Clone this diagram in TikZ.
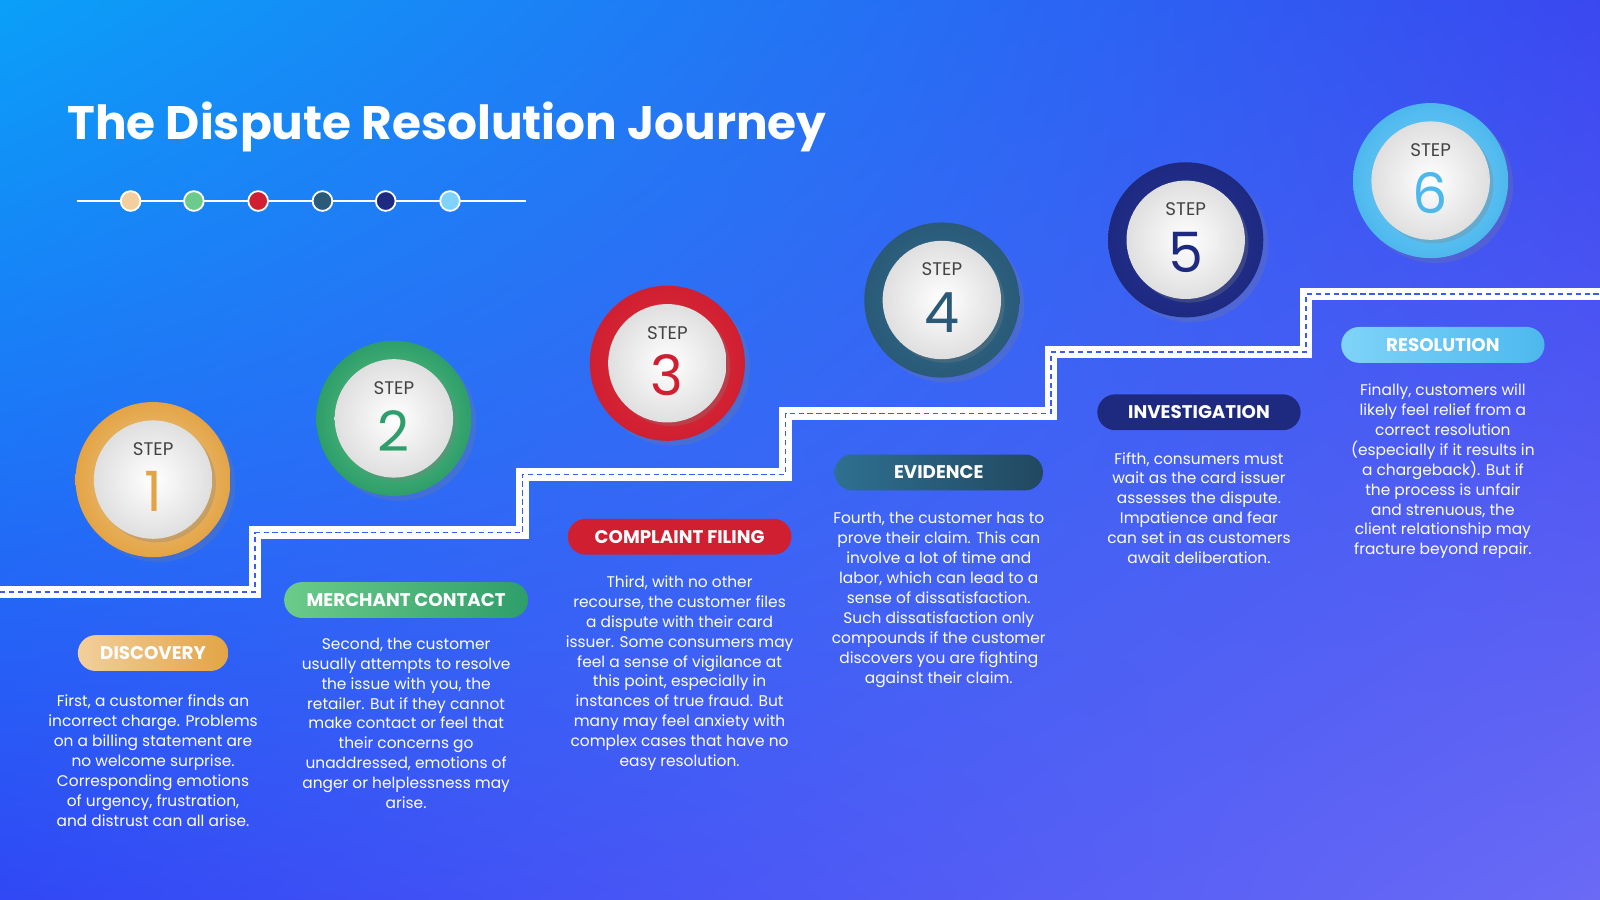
\documentclass[tikz,border=0pt]{standalone}
\usepackage{fontspec}
\setmainfont{Poppins}
\usetikzlibrary{shadows,shadings}
\definecolor{cA}{HTML}{E3A445}\definecolor{cAl}{HTML}{F2CF9C}
\definecolor{cB}{HTML}{2E9E6A}\definecolor{cBl}{HTML}{6CCB8A}
\definecolor{cC}{HTML}{D01F30}\definecolor{cCl}{HTML}{E0303F}
\definecolor{cD}{HTML}{2A5A78}\definecolor{cDl}{HTML}{2E7090}
\definecolor{cE}{HTML}{1E2A80}\definecolor{cEl}{HTML}{25339A}
\definecolor{cF}{HTML}{4DB8EE}\definecolor{cFl}{HTML}{7FD3F8}
\definecolor{bgA}{HTML}{0AA0F8}\definecolor{bgB}{HTML}{3A48F0}
\definecolor{bgC}{HTML}{3048F5}\definecolor{bgD}{HTML}{6A6AF5}
\definecolor{stair}{HTML}{3A5CF5}
\definecolor{txt}{HTML}{444444}
\begin{document}
\begin{tikzpicture}[x=0.02cm,y=-0.02cm,
  body/.style={align=center,text=white,font=\fontsize{8.6}{11.1}\selectfont,anchor=north},
  pill/.style={rounded corners=10pt,minimum height=20pt,text=white,font=\bfseries\fontsize{10.2}{12}\selectfont},
  dot/.style={circle,draw=white,line width=1pt,minimum size=11pt,inner sep=0pt}]
\useasboundingbox (0,0) rectangle (1568,882);
\shade[upper left=bgA,upper right=bgB,lower left=bgC,lower right=bgD] (0,0) rectangle (1568,882);
\node[anchor=west,text=white,font=\bfseries\fontsize{26.2}{30}\selectfont] (title) at (60,124) {The Dispute Resolution Journey};
% dots line
\coordinate (l0) at (75,197); \coordinate (l1) at (515,197);
\draw[white,line width=1pt] (l0) -- (l1);
\foreach \x/\c [count=\i] in {128/cAl,190/cBl,253/cC,316/cD,378/cE,441/cFl}
  \node[dot,fill=\c] (d\i) at (\x,197) {};
% stairs
\def\stairpath{(0,580)--(250,580)--(250,522)--(512,522)--(512,465)--(770,465)--(770,405)--(1030,405)--(1030,345)--(1280,345)--(1280,288)--(1568,288)}
\draw[white,line width=7pt] \stairpath;
\draw[stair,line width=0.8pt,dash pattern=on 3pt off 2pt] \stairpath;
% steps
\foreach \x/\y/\c/\cl/\n in {150/470/cA/cAl/1,386/410/cB/cBl/2,654/356/cC/cCl/3,923/294/cD/cDl/4,1162/235/cE/cEl/5,1402/177/cF/cFl/6}{
  \shade[inner color=\cl,outer color=\c,drop shadow={opacity=0.25}] (\x,\y) circle (76);
  \shade[inner color=white,outer color=gray!25,drop shadow={opacity=0.3,shadow xshift=2pt,shadow yshift=-2pt}] (\x,\y) circle (58);
  \node[text=txt,font=\fontsize{10.2}{12}\selectfont] (s\n) at (\x,\y-30) {STEP};
  \node[text=\c,font=\fontsize{31}{32}\selectfont] (n\n) at (\x,\y+12) {\n};
}
% labels
\node[pill,left color=cAl,right color=cA,minimum width=148*0.567pt] (p1) at (150,640) {DISCOVERY};
\node[pill,left color=cBl,right color=cB,minimum width=240*0.567pt] (p2) at (398,588) {MERCHANT CONTACT};
\node[pill,fill=cC,minimum width=220*0.567pt] (p3) at (666,526) {COMPLAINT FILING};
\node[pill,left color=cDl,right color=cD!80!black,minimum width=205*0.567pt] (p4) at (920,463) {EVIDENCE};
\node[pill,fill=cE,minimum width=200*0.567pt] (p5) at (1175,404) {INVESTIGATION};
\node[pill,left color=cFl,right color=cF,minimum width=200*0.567pt] (p6) at (1414,338) {RESOLUTION};
\node[body] (t1) at (150,675) {First, a customer finds an\\incorrect charge. Problems\\on a billing statement are\\no welcome surprise.\\Corresponding emotions\\of urgency, frustration,\\and distrust can all arise.};
\node[body] (t2) at (398,619) {Second, the customer\\usually attempts to resolve\\the issue with you, the\\retailer. But if they cannot\\make contact or feel that\\their concerns go\\unaddressed, emotions of\\anger or helplessness may\\arise.};
\node[body] (t3) at (666,558) {Third, with no other\\recourse, the customer files\\a dispute with their card\\issuer. Some consumers may\\feel a sense of vigilance at\\this point, especially in\\instances of true fraud. But\\many may feel anxiety with\\complex cases that have no\\easy resolution.};
\node[body] (t4) at (920,496) {Fourth, the customer has to\\prove their claim. This can\\involve a lot of time and\\labor, which can lead to a\\sense of dissatisfaction.\\Such dissatisfaction only\\compounds if the customer\\discovers you are fighting\\against their claim.};
\node[body] (t5) at (1175,437) {Fifth, consumers must\\wait as the card issuer\\assesses the dispute.\\Impatience and fear\\can set in as customers\\await deliberation.};
\node[body] (t6) at (1414,370) {Finally, customers will\\likely feel relief from a\\correct resolution\\(especially if it results in\\a chargeback). But if\\the process is unfair\\and strenuous, the\\client relationship may\\fracture beyond repair.};
\end{tikzpicture}
\end{document}
